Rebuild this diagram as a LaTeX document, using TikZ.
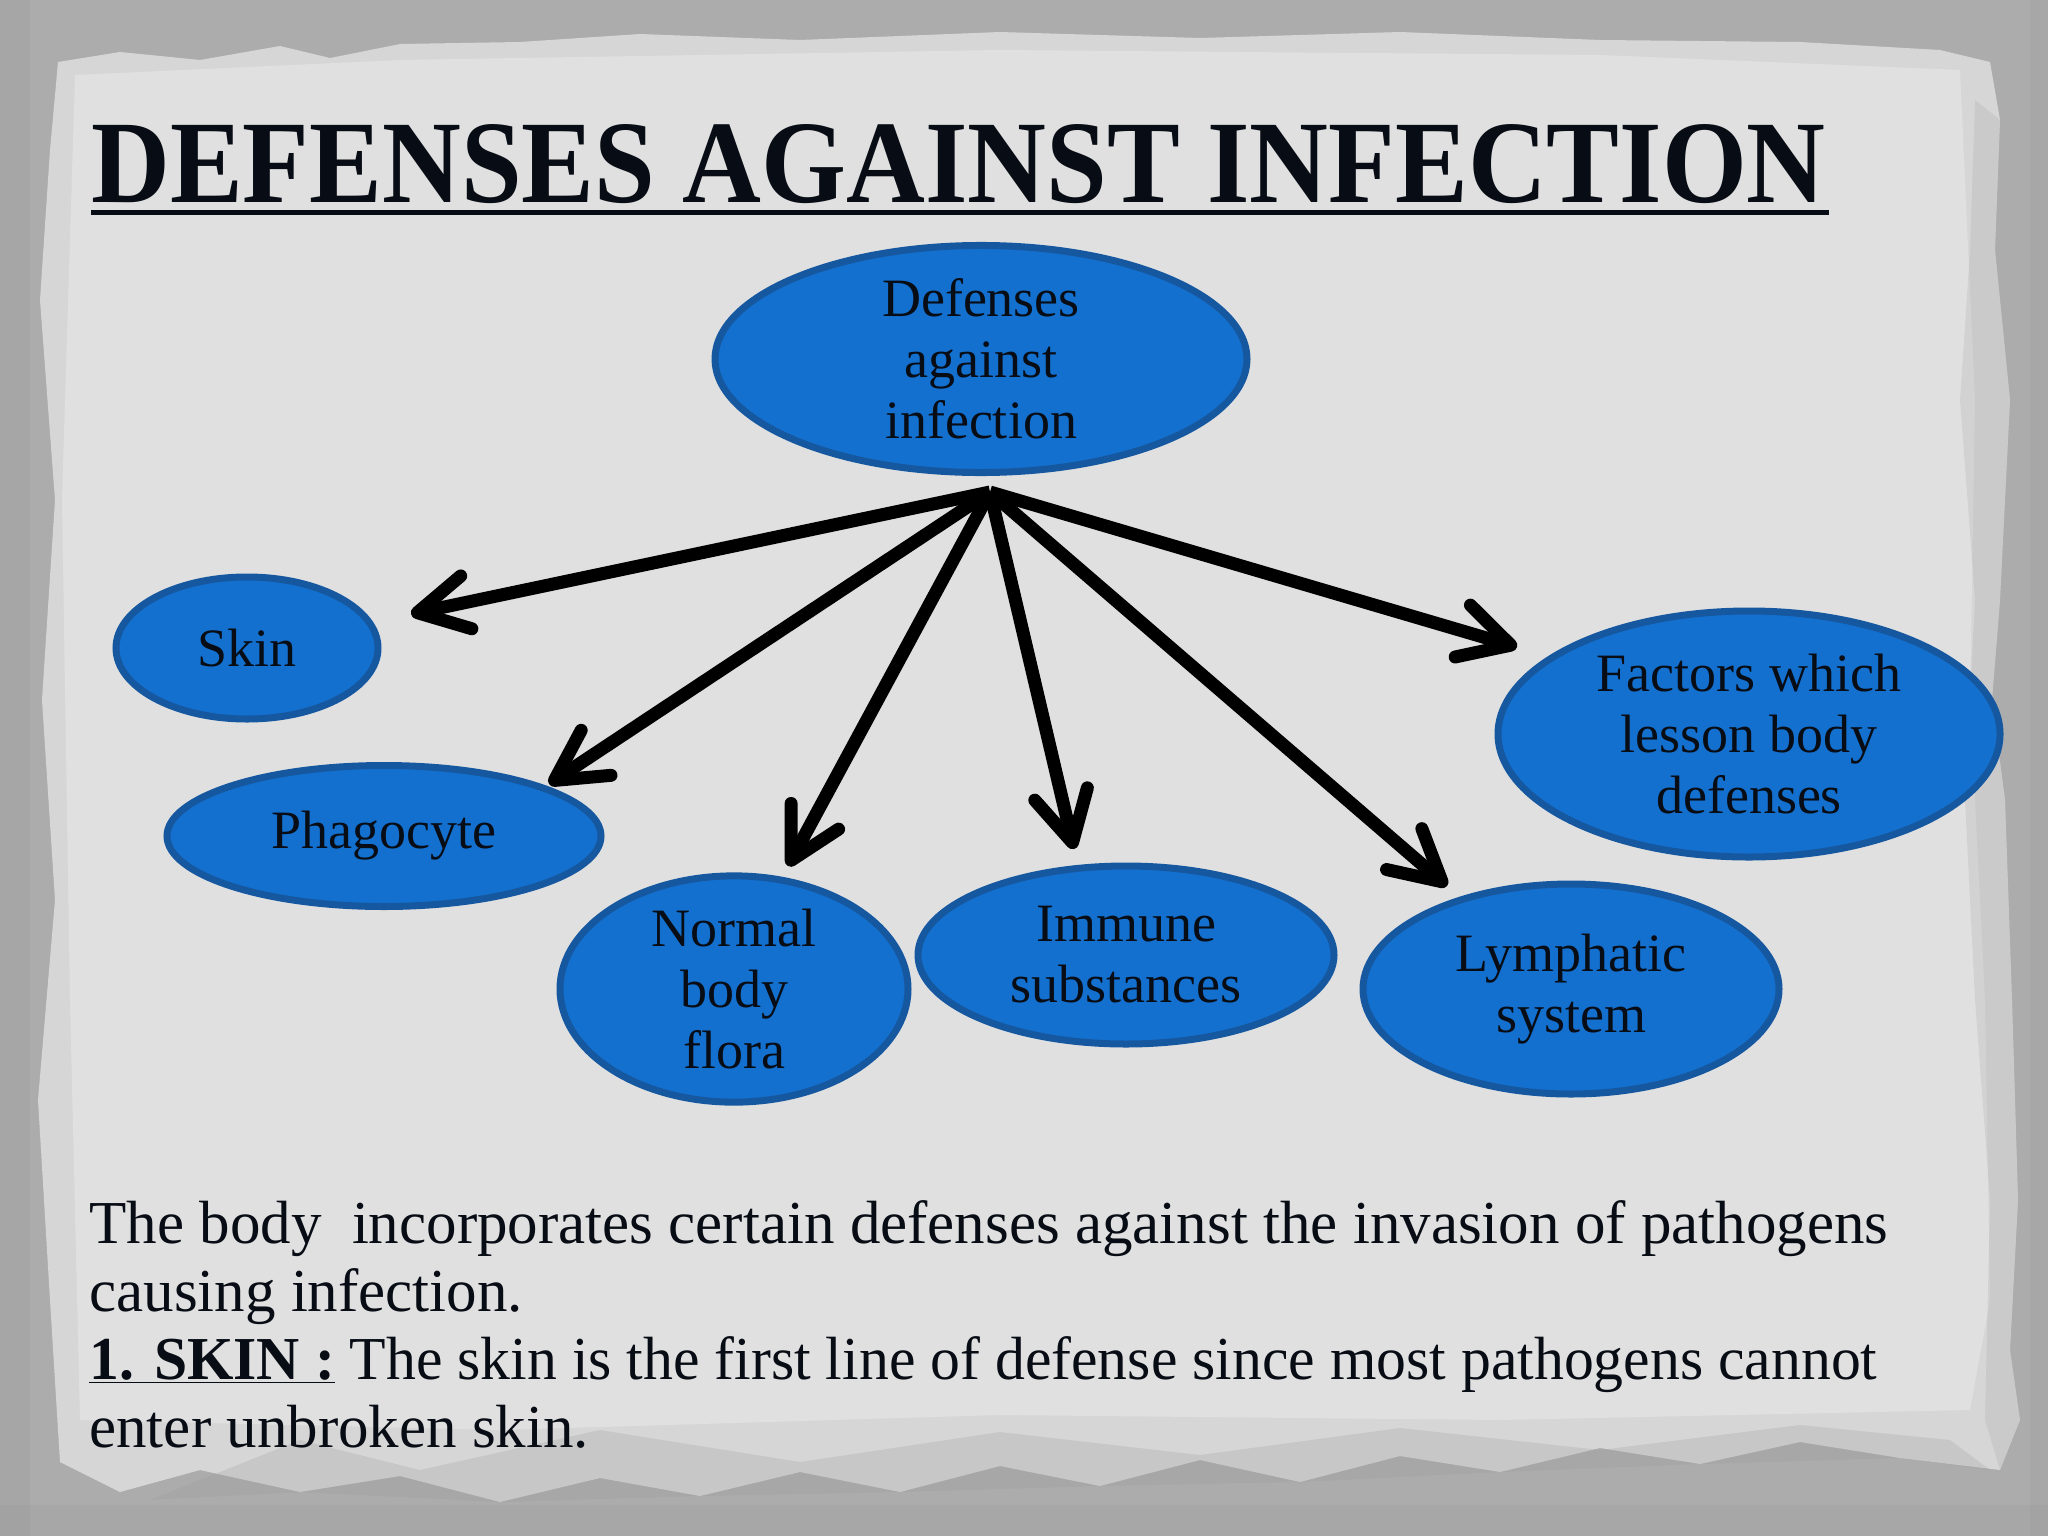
\documentclass[tikz,border=0pt]{standalone}
\usepackage{fontspec}
\setmainfont{Liberation Serif}
\usetikzlibrary{shapes.geometric,arrows.meta}
\definecolor{bgout}{RGB}{172,172,172}
\definecolor{bgdark}{RGB}{150,150,150}
\definecolor{paper}{RGB}{224,224,224}
\definecolor{paperedge}{RGB}{214,214,214}
\definecolor{ellfill}{RGB}{20,112,206}
\definecolor{elldraw}{RGB}{22,88,160}
\definecolor{ink}{RGB}{8,12,20}
\begin{document}
\begin{tikzpicture}[x=0.5pt,y=-0.5pt,
  oval/.style={ellipse,draw=elldraw,fill=ellfill,line width=3.5pt,inner sep=0pt,
    align=center,text=ink,font=\fontsize{27}{30.5}\selectfont},
  arr/.style={line width=6.5pt,draw=black,
    -{Straight Barb[length=25pt,width=27pt,line cap=round,line join=round]}},
  bodytext/.style={anchor=base west,inner sep=0pt,text=ink,font=\fontsize{30.5}{34}\selectfont}]
\useasboundingbox (0,0) rectangle (2048,1536);
% backdrop
\fill[bgout] (0,0) rectangle (2048,1536);
\fill[bgdark,opacity=0.25] (0,0) rectangle (30,1536);
\fill[bgdark,opacity=0.2] (2030,0) rectangle (2048,1536);
\fill[bgdark,opacity=0.2] (0,1505) rectangle (2048,1536);
% torn paper
\fill[paperedge] (58,62) -- (120,52) -- (200,60) -- (280,46) -- (330,58) -- (400,44) -- (520,42)
  -- (640,34) -- (800,40) -- (1000,32) -- (1200,38) -- (1400,32) -- (1600,40) -- (1800,42)
  -- (1940,50) -- (1990,62) -- (2000,120) -- (1995,250) -- (2010,400) -- (2000,600)
  -- (1992,700) -- (2005,800) -- (2012,1000) -- (2018,1200) -- (2010,1350) -- (2020,1420)
  -- (2000,1470) -- (1900,1458) -- (1800,1442) -- (1700,1464) -- (1600,1448) -- (1500,1472)
  -- (1400,1456) -- (1300,1482) -- (1200,1460) -- (1100,1486) -- (1000,1466) -- (900,1492)
  -- (800,1472) -- (700,1496) -- (600,1478) -- (500,1502) -- (400,1476) -- (300,1492)
  -- (200,1470) -- (120,1492) -- (60,1462) -- (50,1300) -- (38,1100) -- (55,900) -- (42,700)
  -- (55,500) -- (40,300) -- (50,150) -- cycle;
\fill[paper] (75,75) -- (400,60) -- (1000,50) -- (1600,55) -- (1960,70) -- (1975,400)
  -- (1970,700) -- (1985,1000) -- (1990,1300) -- (1970,1410) -- (1500,1420) -- (1000,1415)
  -- (500,1430) -- (80,1420) -- (70,1000) -- (62,500) -- cycle;
\fill[bgdark,opacity=0.22] (150,1500) -- (300,1440) -- (420,1470) -- (600,1430) -- (800,1462)
  -- (1000,1432) -- (1200,1455) -- (1400,1428) -- (1600,1450) -- (1800,1425) -- (1950,1440)
  -- (1990,1470) -- (1900,1458) -- (1700,1464) -- (1500,1472) -- (1300,1482) -- (1100,1486)
  -- (900,1492) -- (700,1496) -- (500,1502) -- (300,1492) -- cycle;
\fill[bgdark,opacity=0.18] (1975,100) -- (2000,120) -- (1995,250) -- (2010,400) -- (2000,600)
  -- (1992,700) -- (2005,800) -- (2012,1000) -- (2018,1200) -- (2010,1350) -- (2020,1420)
  -- (2000,1470) -- (1985,1420) -- (1990,1200) -- (1975,1000) -- (1965,800) -- (1975,600)
  -- (1960,400) -- (1970,250) -- cycle;
% title
\node[anchor=base west,inner sep=0pt,text=ink] (title) at (91,202)
  {\resizebox{867pt}{39pt}{\bfseries DEFENSES AGAINST INFECTION}};
\draw[ink,line width=2.5pt] (91,212) -- (1829,212);
% ellipses
\node[oval,minimum width=266pt,minimum height=104pt] (root) at (981,359) {Defenses\\against\\infection};
\node[oval,minimum width=131pt,minimum height=71pt] (skin) at (247,648) {Skin};
\node[oval,minimum width=217pt,minimum height=70.5pt] (phago) at (384,836) {Phagocyte};
\node[oval,minimum width=174pt,minimum height=105pt] (flora) at (734,989) {Normal\\body\\flora};
\node[oval,minimum width=208pt,minimum height=89pt] (immune) at (1126,955) {Immune\\substances};
\node[oval,minimum width=208pt,minimum height=105pt] (lymph) at (1571,989) {Lymphatic\\system};
\node[oval,minimum width=251pt,minimum height=123pt] (factors) at (1749,734) {Factors which\\lesson body\\defenses};
% arrows
\coordinate (hub) at (990,492);
\coordinate (tskin) at (411,614);
\coordinate (tphago) at (549,784);
\coordinate (tflora) at (788,866);
\coordinate (timmune) at (1074,849);
\coordinate (tlymph) at (1447,886);
\coordinate (tfactors) at (1517,647);
\foreach \t in {tskin,tphago,tflora,timmune,tlymph,tfactors}
  \draw[arr] (hub) -- (\t);
% body text
\node[bodytext] (l1) at (89,1243) {The body~ incorporates certain defenses against the invasion of pathogens};
\node[bodytext] (l2) at (89,1311) {causing infection.};
\node[bodytext] (l3) at (89,1379) {\scalebox{0.979}[1]{\underline{\textbf{1. SKIN :}} The skin is the first line of defense since most pathogens cannot}};
\node[bodytext] (l4) at (89,1447) {enter unbroken skin.};
\end{tikzpicture}
\end{document}
